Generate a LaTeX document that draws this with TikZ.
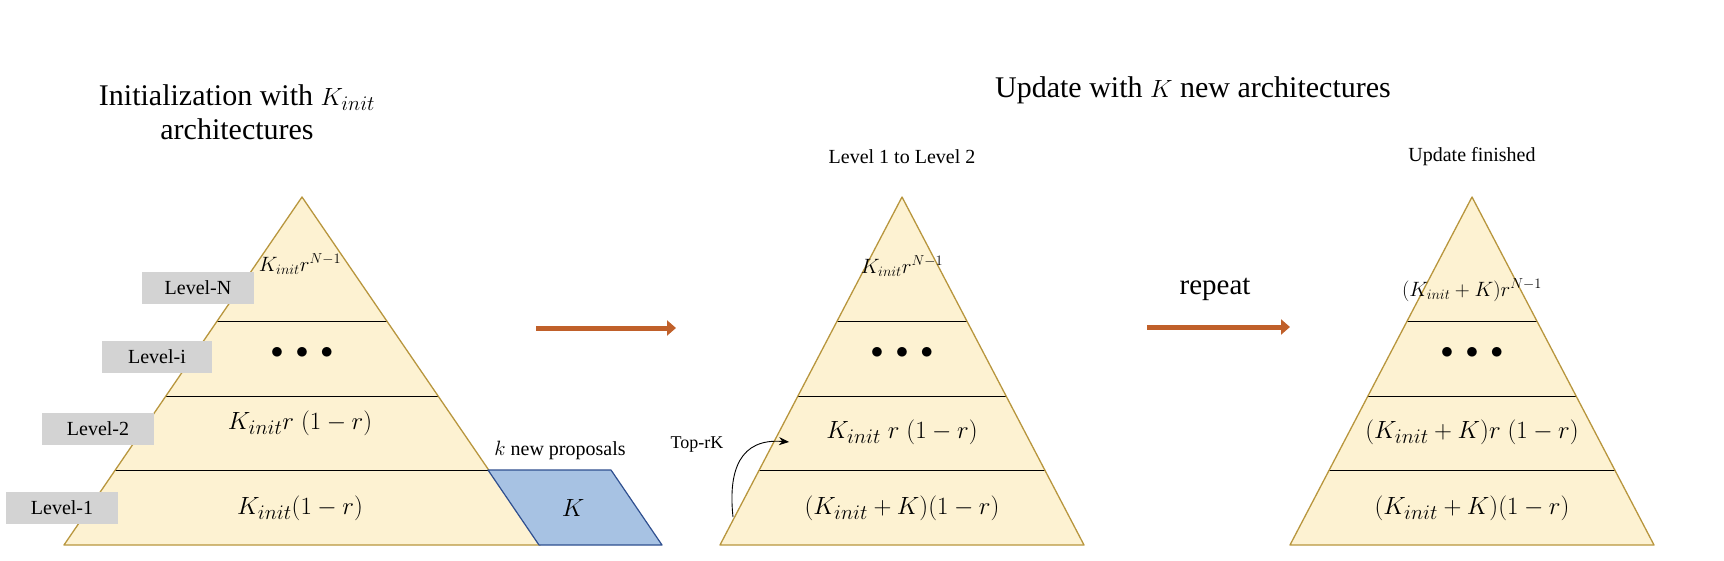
\documentclass[tikz,border=0pt]{standalone}
\usepackage{fontspec}
\setmainfont{Liberation Serif}
\usetikzlibrary{arrows.meta}
\definecolor{pyrfill}{HTML}{FDF2D2}
\definecolor{pyredge}{HTML}{B8963E}
\definecolor{lvgray}{HTML}{D3D3D3}
\definecolor{kblue}{HTML}{A7C2E3}
\definecolor{kedge}{HTML}{2F4F8F}
\definecolor{orangearr}{HTML}{C0602A}
\newcommand{\mypyr}[2]{%
  \fill[pyrfill] (#1,197) -- (#1-#2,545) -- (#1+#2,545) -- cycle;
  \begin{scope}
    \clip (#1,197) -- (#1-#2,545) -- (#1+#2,545) -- cycle;
    \foreach \yy in {321,396,470} \draw[line width=0.9pt] (#1-#2,\yy) -- (#1+#2,\yy);
  \end{scope}
  \draw[pyredge,line width=1.3pt,line join=round] (#1,197) -- (#1-#2,545) -- (#1+#2,545) -- cycle;
}
\tikzset{
  lvl/.style={fill=lvgray,minimum height=32pt,inner sep=0pt,font=\fontsize{20}{20}\selectfont},
  bigm/.style={font=\fontsize{31}{31}\selectfont},
  smallm/.style={font=\fontsize{20}{20}\selectfont},
  ttl/.style={font=\fontsize{30}{34}\selectfont,align=center},
  sub/.style={font=\fontsize{20}{20}\selectfont},
  bigarr/.style={orangearr,line width=5pt,-{Triangle[length=9pt,width=15pt]}}
}
\begin{document}
\begin{tikzpicture}[x=1pt,y=-1pt]
\useasboundingbox (0,0) rectangle (1724,561);
\mypyr{302}{238}
\mypyr{902}{182}
\mypyr{1472}{182}
% K parallelogram
\draw[fill=kblue,draw=kedge,line width=1.2pt,line join=round] (488,470) -- (611,470) -- (662,545) -- (539,545) -- cycle;
\node[bigm] (kbox) at (573,508) {$K$};
\node[sub] (knew) at (560,450) {$k$ new proposals};
% level labels
\node[lvl,minimum width=112pt] (lN) at (198,288) {Level-N};
\node[lvl,minimum width=110pt] (li) at (157,357) {Level-i};
\node[lvl,minimum width=112pt] (l2) at (98,429) {Level-2};
\node[lvl,minimum width=112pt] (l1) at (62,508) {Level-1};
% left pyramid texts
\node[smallm] (a4) at (300,264) {$K_{init}r^{N-1}$};
\node[font=\fontsize{44}{44}\selectfont] (a3) at (302,353) {$\bullet\;\bullet\;\bullet$};
\node[bigm] (a2) at (300,423) {$K_{init}r\;(1-r)$};
\node[bigm] (a1) at (300,508) {$K_{init}(1-r)$};
% middle
\node[smallm] (b4) at (902,266) {$K_{init}r^{N-1}$};
\node[font=\fontsize{44}{44}\selectfont] (b3) at (902,353) {$\bullet\;\bullet\;\bullet$};
\node[bigm] (b2) at (902,432) {$K_{init}\;r\;(1-r)$};
\node[bigm] (b1) at (902,508) {$(K_{init}+K)(1-r)$};
% right
\node[smallm] (c4) at (1472,290) {$(K_{init}+K)r^{N-1}$};
\node[font=\fontsize{44}{44}\selectfont] (c3) at (1472,353) {$\bullet\;\bullet\;\bullet$};
\node[bigm] (c2) at (1472,432) {$(K_{init}+K)r\;(1-r)$};
\node[bigm] (c1) at (1472,508) {$(K_{init}+K)(1-r)$};
% titles
\node[ttl] (t1) at (237,112) {Initialization with $K_{init}$\\architectures};
\node[ttl] (t2) at (1193,90) {Update with $K$ new architectures};
\node[sub] (s1) at (902,157) {Level 1 to Level 2};
\node[sub] (s2) at (1472,157) {Update finished};
\node[font=\fontsize{29}{29}\selectfont] (rep) at (1215,289) {repeat};
% arrows
\coordinate (a1s) at (536,328); \coordinate (a1e) at (676,328);
\draw[bigarr] (a1s) -- (a1e);
\coordinate (a2s) at (1147,327); \coordinate (a2e) at (1290,327);
\draw[bigarr] (a2s) -- (a2e);
% top-rK
\node[font=\fontsize{18}{18}\selectfont] (trk) at (697,445) {Top-rK};
\coordinate (cs) at (733,517); \coordinate (ce) at (789,442);
\draw[line width=0.9pt,-{Stealth[length=10pt,width=8pt]}] (cs) .. controls (728,470) and (740,438) .. (ce);
\end{tikzpicture}
\end{document}
